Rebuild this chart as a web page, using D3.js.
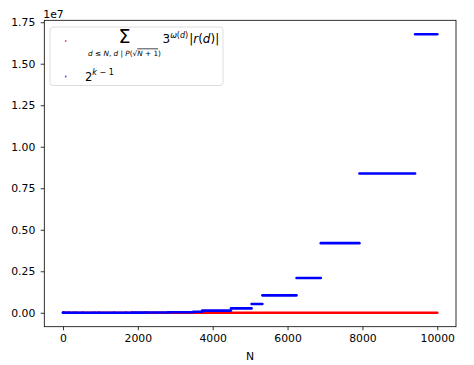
<!DOCTYPE html>
<html lang="en">
<head>
    <meta charset="UTF-8">
    <title>Steps 2^(k-1)</title>
    <script src="https://d3js.org/d3.v7.min.js"></script>
    <style>
        body {
            margin: 0;
            padding: 0;
            background: #fff;
        }
        svg {
            display: block;
            font-family: "DejaVu Sans", sans-serif;
        }
        .tick text {
            font-size: 10.8px;
            fill: #000;
        }
        .tick line {
            stroke: #000;
            stroke-width: 0.8px;
        }
        .math {
            fill: #000;
        }
        .it {
            font-style: italic;
        }
    </style>
</head>
<body>
    <div id="chart"></div>

    <script>
        // red series: the sum, stays close to zero at this scale
        const redN = [1, 2000, 4000, 6000, 8000, 10000];
        const redValue = [0, 0, 0, 0, 0, 0];

        // blue series: 2^(k-1), piecewise constant, each step starts at stepStart
        const stepStart = [1, 3, 8, 24, 48, 120, 168, 288, 360, 528, 840, 960, 1368, 1680,
            1848, 2208, 2808, 3480, 3720, 4488, 5040, 5328, 6240, 6888, 7920, 9408];
        const stepValue = [0.5, 1, 2, 4, 8, 16, 32, 64, 128, 256, 512, 1024, 2048, 4096,
            8192, 16384, 32768, 65536, 131072, 262144, 524288, 1048576, 2097152, 4194304,
            8388608, 16777216];
        const lastN = 10000;

        const xTicks = [0, 2000, 4000, 6000, 8000, 10000];
        const yTicks = [0, 2500000, 5000000, 7500000, 10000000, 12500000, 15000000, 17500000];
        const yTickLabels = ["0.00", "0.25", "0.50", "0.75", "1.00", "1.25", "1.50", "1.75"];

        const W = 474, H = 365;
        const margin = { top: 20.3, right: 18, bottom: 38.3, left: 44.3 };
        const width = W - margin.left - margin.right;
        const height = H - margin.top - margin.bottom;

        const svg = d3.select("#chart").append("svg")
            .attr("width", W)
            .attr("height", H);

        const g = svg.append("g")
            .attr("transform", `translate(${margin.left},${margin.top})`);

        // matplotlib style 5% margins
        const xMin = 1, xMax = 10000;
        const xPad = (xMax - xMin) * 0.05;
        const yMax = d3.max(stepValue);
        const yPad = yMax * 0.05;

        const x = d3.scaleLinear()
            .domain([xMin - xPad, xMax + xPad])
            .range([0, width]);

        const y = d3.scaleLinear()
            .domain([-yPad, yMax + yPad])
            .range([height, 0]);

        // red points drawn first
        g.append("path")
            .datum(redN.map((n, i) => ({ n: n, v: redValue[i] })))
            .attr("fill", "none")
            .attr("stroke", "#ff0000")
            .attr("stroke-width", 2.6)
            .attr("stroke-linecap", "round")
            .attr("d", d3.line().x(d => x(d.n)).y(d => y(d.v)));

        // blue steps on top
        const steps = stepStart.map((s, i) => ({
            start: s,
            end: i < stepStart.length - 1 ? stepStart[i + 1] - 1 : lastN,
            value: stepValue[i]
        }));

        g.selectAll(".step")
            .data(steps)
            .enter()
            .append("line")
            .attr("class", "step")
            .attr("x1", d => x(d.start))
            .attr("x2", d => x(d.end))
            .attr("y1", d => y(d.value))
            .attr("y2", d => y(d.value))
            .attr("stroke", "#0000ff")
            .attr("stroke-width", 2.6)
            .attr("stroke-linecap", "round");

        // axes
        const xAxis = g.append("g")
            .attr("transform", `translate(0,${height})`)
            .call(d3.axisBottom(x).tickValues(xTicks).tickFormat(d3.format("d"))
                .tickSize(3.6).tickPadding(4.4));
        xAxis.select(".domain").remove();
        xAxis.selectAll("text").attr("font-family", "DejaVu Sans");

        const yAxis = g.append("g")
            .call(d3.axisLeft(y).tickValues(yTicks).tickFormat((d, i) => yTickLabels[i])
                .tickSize(3.6).tickPadding(5.4));
        yAxis.select(".domain").remove();
        yAxis.selectAll("text").attr("font-family", "DejaVu Sans");

        // spines
        g.append("rect")
            .attr("width", width)
            .attr("height", height)
            .attr("fill", "none")
            .attr("stroke", "#000")
            .attr("stroke-width", 0.8);

        // offset text and axis label
        svg.append("text")
            .attr("x", margin.left - 1)
            .attr("y", 18.3)
            .attr("font-size", 10.8)
            .text("1e7");

        svg.append("text")
            .attr("x", margin.left + width / 2)
            .attr("y", 360)
            .attr("text-anchor", "middle")
            .attr("font-size", 10.8)
            .text("N");

        // legend
        const legend = svg.append("g");
        legend.append("rect")
            .attr("x", 50)
            .attr("y", 27)
            .attr("width", 173)
            .attr("height", 58.5)
            .attr("rx", 3)
            .attr("fill", "#fff")
            .attr("fill-opacity", 0.8)
            .attr("stroke", "#d6d6d6")
            .attr("stroke-width", 0.8);

        legend.append("circle")
            .attr("cx", 65.7).attr("cy", 41)
            .attr("r", 0.9)
            .attr("fill", "#ff0000")
            .attr("opacity", 0.7);
        legend.append("circle")
            .attr("cx", 65.7).attr("cy", 76.5)
            .attr("r", 0.9)
            .attr("fill", "#0000ff")
            .attr("opacity", 0.7);

        // sum symbol
        legend.append("text")
            .attr("class", "math")
            .attr("x", 124.5)
            .attr("y", 43)
            .attr("text-anchor", "middle")
            .attr("font-size", 19)
            .text("\u03A3");

        // subscript under the sum
        const sub = legend.append("text")
            .attr("class", "math")
            .attr("x", 124.5)
            .attr("y", 55.5)
            .attr("text-anchor", "middle")
            .attr("font-size", 7.3);
        sub.append("tspan").attr("class", "it").text("d");
        sub.append("tspan").text(" \u2264 ");
        sub.append("tspan").attr("class", "it").text("N");
        sub.append("tspan").text(", ");
        sub.append("tspan").attr("class", "it").text("d");
        sub.append("tspan").text(" | ");
        sub.append("tspan").attr("class", "it").text("P");
        sub.append("tspan").text("(\u221A");
        sub.append("tspan").attr("class", "it")
            .style("text-decoration", "overline").text("N");
        sub.append("tspan").style("text-decoration", "overline").text(" + 1");
        sub.append("tspan").text(")");

        // 3^{omega(d)} |r(d)|
        const term = legend.append("text")
            .attr("class", "math")
            .attr("x", 162.5)
            .attr("y", 43)
            .attr("font-size", 12);
        term.append("tspan").text("3");
        term.append("tspan").attr("class", "it").attr("font-size", 8)
            .attr("dy", -5.5).text("\u03C9");
        term.append("tspan").attr("font-size", 8).text("(");
        term.append("tspan").attr("class", "it").attr("font-size", 8).text("d");
        term.append("tspan").attr("font-size", 8).text(")");
        term.append("tspan").attr("dy", 5.5).attr("dx", 1).text("|");
        term.append("tspan").attr("class", "it").text("r");
        term.append("tspan").text("(");
        term.append("tspan").attr("class", "it").text("d");
        term.append("tspan").text(")|");

        // 2^{k-1}
        const pow = legend.append("text")
            .attr("class", "math")
            .attr("x", 85)
            .attr("y", 80.5)
            .attr("font-size", 11.5);
        pow.append("tspan").text("2");
        pow.append("tspan").attr("class", "it").attr("font-size", 8)
            .attr("dy", -6).text("k");
        pow.append("tspan").attr("font-size", 8).text(" \u2212 1");
    </script>
</body>
</html>
